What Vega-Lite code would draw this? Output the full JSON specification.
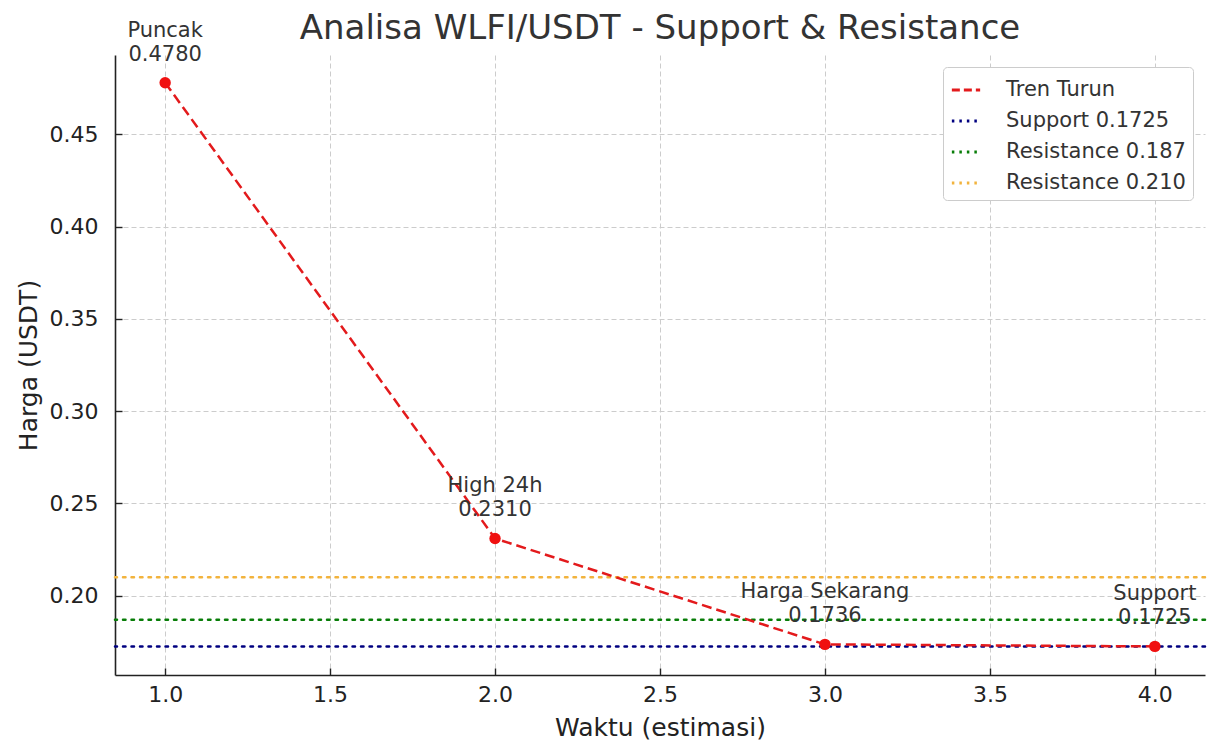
{
  "$schema": "https://vega.github.io/schema/vega-lite/v6.json",
  "width": 1090,
  "height": 620,
  "autosize": {"type": "none"},
  "padding": {"left": 115, "top": 55, "right": 15, "bottom": 80},
  "background": "white",
  "title": {
    "text": "Analisa WLFI/USDT - Support & Resistance",
    "anchor": "middle",
    "fontSize": 34,
    "fontWeight": "normal",
    "font": "DejaVu Sans",
    "color": "#333333",
    "offset": 6,
    "dy": 32
  },
  "config": {
    "font": "DejaVu Sans",
    "view": {"stroke": null},
    "axis": {
      "domainColor": "#222222",
      "domainWidth": 1.6,
      "tickColor": "#222222",
      "tickSize": -7,
      "tickWidth": 1.4,
      "labelFontSize": 22,
      "labelColor": "#222222",
      "titleFontSize": 25,
      "titleFontWeight": "normal",
      "titleColor": "#222222",
      "gridColor": "#cccccc",
      "gridDash": [5, 3],
      "gridWidth": 1
    }
  },
  "datasets": {
    "trend": [
      {"waktu": 1, "harga": 0.478, "label": "Puncak\n0.4780", "seri": "Tren Turun"},
      {"waktu": 2, "harga": 0.231, "label": "High 24h\n0.2310", "seri": "Tren Turun"},
      {"waktu": 3, "harga": 0.1736, "label": "Harga Sekarang\n0.1736", "seri": "Tren Turun"},
      {"waktu": 4, "harga": 0.1725, "label": "Support\n0.1725", "seri": "Tren Turun"}
    ],
    "levels": [
      {"seri": "Support 0.1725", "harga": 0.1725},
      {"seri": "Resistance 0.187", "harga": 0.187},
      {"seri": "Resistance 0.210", "harga": 0.21}
    ]
  },
  "encoding": {
    "y": {
      "field": "harga",
      "type": "quantitative",
      "title": "Harga (USDT)",
      "scale": {"domain": [0.157, 0.493], "nice": false, "zero": false},
      "axis": {
        "values": [0.2, 0.25, 0.3, 0.35, 0.4, 0.45],
        "format": ".2f",
        "labelPadding": 24,
        "titlePadding": 8
      }
    }
  },
  "layer": [
    {
      "data": {"name": "levels"},
      "mark": {"type": "rule", "strokeWidth": 2.5, "strokeDash": [2.5, 6], "strokeCap": "round"},
      "encoding": {
        "color": {
          "field": "seri",
          "type": "nominal",
          "scale": {
            "domain": ["Tren Turun", "Support 0.1725", "Resistance 0.187", "Resistance 0.210"],
            "range": ["#e31a1c", "#000080", "#087d08", "#f2b33d"]
          },
          "legend": {
            "title": null,
            "orient": "top-right",
            "offset": 12,
            "symbolType": "stroke",
            "symbolSize": 800,
            "symbolStrokeWidth": 3,
            "labelFontSize": 21,
            "labelLimit": 300,
            "labelColor": "#333333",
            "labelOffset": 24,
            "rowPadding": 5,
            "padding": 7,
            "fillColor": "white",
            "strokeColor": "#cccccc",
            "cornerRadius": 4,
            "encode": {
              "symbols": {
                "update": {
                  "strokeDash": {"signal": "datum.label == 'Tren Turun' ? [8, 4] : [2.5, 5]"}
                }
              }
            }
          }
        }
      }
    },
    {
      "data": {"name": "trend"},
      "mark": {"type": "line", "strokeWidth": 2.5, "strokeDash": [10, 5]},
      "encoding": {
        "x": {
          "field": "waktu",
          "type": "quantitative",
          "title": "Waktu (estimasi)",
          "scale": {"domain": [0.848, 4.152], "nice": false, "zero": false},
          "axis": {
            "values": [1, 1.5, 2, 2.5, 3, 3.5, 4],
            "format": ".1f",
            "labelPadding": 16,
            "titlePadding": 10
          }
        },
        "color": {"field": "seri", "type": "nominal"}
      }
    },
    {
      "data": {"name": "trend"},
      "mark": {"type": "circle", "size": 130, "opacity": 1, "color": "#f01010"},
      "encoding": {
        "x": {"field": "waktu", "type": "quantitative"}
      }
    },
    {
      "data": {"name": "trend"},
      "mark": {
        "type": "text",
        "fontSize": 21,
        "color": "#333333",
        "baseline": "bottom",
        "lineBreak": "\n",
        "lineHeight": 24,
        "dy": -42
      },
      "encoding": {
        "x": {"field": "waktu", "type": "quantitative"},
        "text": {"field": "label"}
      }
    }
  ]
}
